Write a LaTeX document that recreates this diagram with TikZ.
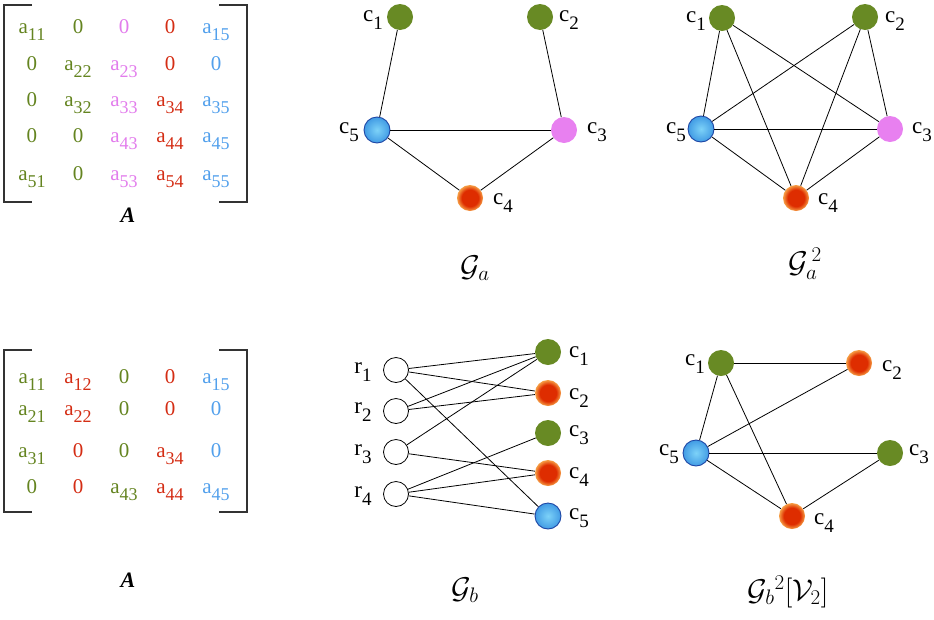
\documentclass[tikz,border=0pt]{standalone}
\usepackage{fix-cm}
\usepackage{fontspec}
\setmainfont{Liberation Serif}
\definecolor{ngreen}{RGB}{104,138,36}
\definecolor{npink}{RGB}{232,128,240}
\definecolor{nred}{RGB}{222,45,0}
\definecolor{norange}{RGB}{246,160,70}
\definecolor{nbluein}{RGB}{125,210,248}
\definecolor{nblueout}{RGB}{65,155,228}
\definecolor{nblueedge}{RGB}{30,70,165}
\definecolor{tgreen}{RGB}{100,132,32}
\definecolor{tpink}{RGB}{226,125,236}
\definecolor{tred}{RGB}{212,45,20}
\definecolor{tblue}{RGB}{82,160,236}
\pgfdeclareradialshading{redglow}{\pgfpoint{0bp}{0bp}}{color(0bp)=(nred);color(16bp)=(nred);color(25bp)=(norange);color(50bp)=(norange)}
\pgfdeclareradialshading{blueglow}{\pgfpoint{0bp}{0bp}}{color(0bp)=(nbluein);color(25bp)=(nblueout);color(50bp)=(nblueout)}
\newcommand{\ssub}[2]{#1\raisebox{-7pt}{\fontsize{18}{18}\selectfont #2}}
\newcommand{\csub}[2]{#1\raisebox{-8pt}{\fontsize{19}{19}\selectfont #2}}
\tikzset{
 vtx/.style={circle, minimum size=26pt, inner sep=0pt},
 gv/.style={vtx, fill=ngreen},
 pv/.style={vtx, fill=npink},
 rv/.style={vtx, shading=redglow},
 bv/.style={vtx, shading=blueglow, draw=nblueedge, line width=0.9pt},
 wv/.style={vtx, minimum size=25pt, draw=black, line width=0.8pt, fill=white},
 link/.style={draw, line width=0.8pt},
 lab/.style={inner sep=0pt, font=\fontsize{23}{23}\selectfont},
 ent/.style={anchor=base, inner sep=0pt, font=\fontsize{21}{21}\selectfont},
 brk/.style={line width=1.2pt, draw=black!80},
 ttl/.style={inner sep=0pt, font=\fontsize{30}{30}\selectfont},
 mlab/.style={inner sep=0pt, font=\bfseries\itshape\fontsize{22}{22}\selectfont},
}
\begin{document}
\begin{tikzpicture}[x=1pt,y=-1pt]
\useasboundingbox (0,0) rectangle (934,619);
% ---------- top matrix ----------
\draw[brk] (32,5) -- (4,5) -- (4,202) -- (32,202);
\draw[brk] (219,5) -- (247,5) -- (247,202) -- (219,202);
\node[ent,text=tgreen] (ta11) at (32,33) {\ssub{a}{11}};
\node[ent,text=tgreen] (ta12) at (78,33) {0};
\node[ent,text=tpink]  (ta13) at (124,33) {0};
\node[ent,text=tred]   (ta14) at (170,33) {0};
\node[ent,text=tblue]  (ta15) at (216,33) {\ssub{a}{15}};
\node[ent,text=tgreen] (ta21) at (32,70) {0};
\node[ent,text=tgreen] (ta22) at (78,70) {\ssub{a}{22}};
\node[ent,text=tpink]  (ta23) at (124,70) {\ssub{a}{23}};
\node[ent,text=tred]   (ta24) at (170,70) {0};
\node[ent,text=tblue]  (ta25) at (216,70) {0};
\node[ent,text=tgreen] (ta31) at (32,106) {0};
\node[ent,text=tgreen] (ta32) at (78,106) {\ssub{a}{32}};
\node[ent,text=tpink]  (ta33) at (124,106) {\ssub{a}{33}};
\node[ent,text=tred]   (ta34) at (170,106) {\ssub{a}{34}};
\node[ent,text=tblue]  (ta35) at (216,106) {\ssub{a}{35}};
\node[ent,text=tgreen] (ta41) at (32,142) {0};
\node[ent,text=tgreen] (ta42) at (78,142) {0};
\node[ent,text=tpink]  (ta43) at (124,142) {\ssub{a}{43}};
\node[ent,text=tred]   (ta44) at (170,142) {\ssub{a}{44}};
\node[ent,text=tblue]  (ta45) at (216,142) {\ssub{a}{45}};
\node[ent,text=tgreen] (ta51) at (32,180) {\ssub{a}{51}};
\node[ent,text=tgreen] (ta52) at (78,180) {0};
\node[ent,text=tpink]  (ta53) at (124,180) {\ssub{a}{53}};
\node[ent,text=tred]   (ta54) at (170,180) {\ssub{a}{54}};
\node[ent,text=tblue]  (ta55) at (216,180) {\ssub{a}{55}};
\node[mlab] (tA) at (128,215) {A};
% ---------- bottom matrix ----------
\draw[brk] (32,350) -- (4,350) -- (4,512) -- (32,512);
\draw[brk] (219,350) -- (247,350) -- (247,512) -- (219,512);
\node[ent,text=tgreen] (ba11) at (32,383) {\ssub{a}{11}};
\node[ent,text=tred]   (ba12) at (78,383) {\ssub{a}{12}};
\node[ent,text=tgreen] (ba13) at (124,383) {0};
\node[ent,text=tred]   (ba14) at (170,383) {0};
\node[ent,text=tblue]  (ba15) at (216,383) {\ssub{a}{15}};
\node[ent,text=tgreen] (ba21) at (32,415) {\ssub{a}{21}};
\node[ent,text=tred]   (ba22) at (78,415) {\ssub{a}{22}};
\node[ent,text=tgreen] (ba23) at (124,415) {0};
\node[ent,text=tred]   (ba24) at (170,415) {0};
\node[ent,text=tblue]  (ba25) at (216,415) {0};
\node[ent,text=tgreen] (ba31) at (32,457) {\ssub{a}{31}};
\node[ent,text=tred]   (ba32) at (78,457) {0};
\node[ent,text=tgreen] (ba33) at (124,457) {0};
\node[ent,text=tred]   (ba34) at (170,457) {\ssub{a}{34}};
\node[ent,text=tblue]  (ba35) at (216,457) {0};
\node[ent,text=tgreen] (ba41) at (32,493) {0};
\node[ent,text=tred]   (ba42) at (78,493) {0};
\node[ent,text=tgreen] (ba43) at (124,493) {\ssub{a}{43}};
\node[ent,text=tred]   (ba44) at (170,493) {\ssub{a}{44}};
\node[ent,text=tblue]  (ba45) at (216,493) {\ssub{a}{45}};
\node[mlab] (bA) at (128,580) {A};
% ---------- G_a ----------
\node[gv] (a1) at (400,17) {};
\node[gv] (a2) at (540,17) {};
\node[pv] (a3) at (564,130) {};
\node[rv] (a4) at (470,198) {};
\node[bv] (a5) at (377,130) {};
\node[lab] (la1) at (373,20) {\csub{c}{1}};
\node[lab] (la2) at (569,20) {\csub{c}{2}};
\node[lab] (la3) at (597,132) {\csub{c}{3}};
\node[lab] (la4) at (503,203) {\csub{c}{4}};
\node[lab] (la5) at (349,132) {\csub{c}{5}};
\draw[link] (a1) -- (a5);
\draw[link] (a2) -- (a3);
\draw[link] (a5) -- (a3);
\draw[link] (a5) -- (a4);
\draw[link] (a3) -- (a4);
\node[ttl] (tGa) at (475,268) {$\mathcal{G}_a$};
% ---------- G_a^2 ----------
\node[gv] (q1) at (722,18) {};
\node[gv] (q2) at (865,17) {};
\node[pv] (q3) at (890,129) {};
\node[rv] (q4) at (796,198) {};
\node[bv] (q5) at (701,129) {};
\node[lab] (lq1) at (696,21) {\csub{c}{1}};
\node[lab] (lq2) at (895,21) {\csub{c}{2}};
\node[lab] (lq3) at (922,132) {\csub{c}{3}};
\node[lab] (lq4) at (828,203) {\csub{c}{4}};
\node[lab] (lq5) at (676,132) {\csub{c}{5}};
\draw[link] (q1) -- (q5);
\draw[link] (q1) -- (q4);
\draw[link] (q1) -- (q3);
\draw[link] (q2) -- (q5);
\draw[link] (q2) -- (q4);
\draw[link] (q2) -- (q3);
\draw[link] (q5) -- (q3);
\draw[link] (q5) -- (q4);
\draw[link] (q3) -- (q4);
\node[ttl] (tGa2) at (805,264) {$\mathcal{G}_a^{\,2}$};
% ---------- G_b ----------
\node[wv] (r1) at (396,370) {};
\node[wv] (r2) at (396,411) {};
\node[wv] (r3) at (396,452) {};
\node[wv] (r4) at (396,494) {};
\node[gv] (b1) at (548,352) {};
\node[rv] (b2) at (548,393) {};
\node[gv] (b3) at (548,433) {};
\node[rv] (b4) at (548,473) {};
\node[bv] (b5) at (548,516) {};
\node[lab] (lr1) at (363,372) {\csub{r}{1}};
\node[lab] (lr2) at (363,412) {\csub{r}{2}};
\node[lab] (lr3) at (363,454) {\csub{r}{3}};
\node[lab] (lr4) at (363,496) {\csub{r}{4}};
\node[lab] (lb1) at (579,356) {\csub{c}{1}};
\node[lab] (lb2) at (579,398) {\csub{c}{2}};
\node[lab] (lb3) at (579,435) {\csub{c}{3}};
\node[lab] (lb4) at (579,477) {\csub{c}{4}};
\node[lab] (lb5) at (579,518) {\csub{c}{5}};
\draw[link] (r1) -- (b1);
\draw[link] (r1) -- (b2);
\draw[link] (r1) -- (b5);
\draw[link] (r2) -- (b1);
\draw[link] (r2) -- (b2);
\draw[link] (r3) -- (b1);
\draw[link] (r3) -- (b4);
\draw[link] (r4) -- (b3);
\draw[link] (r4) -- (b4);
\draw[link] (r4) -- (b5);
\node[ttl] (tGb) at (465,590) {$\mathcal{G}_b$};
% ---------- G_b^2[V_2] ----------
\node[gv] (s1) at (721,363) {};
\node[rv] (s2) at (859,363) {};
\node[gv] (s3) at (890,453) {};
\node[rv] (s4) at (792,516) {};
\node[bv] (s5) at (696,453) {};
\node[lab] (ls1) at (695,364) {\csub{c}{1}};
\node[lab] (ls2) at (892,370) {\csub{c}{2}};
\node[lab] (ls3) at (919,454) {\csub{c}{3}};
\node[lab] (ls4) at (824,523) {\csub{c}{4}};
\node[lab] (ls5) at (669,454) {\csub{c}{5}};
\draw[link] (s1) -- (s2);
\draw[link] (s1) -- (s5);
\draw[link] (s1) -- (s4);
\draw[link] (s5) -- (s2);
\draw[link] (s5) -- (s3);
\draw[link] (s5) -- (s4);
\draw[link] (s4) -- (s3);
\node[ttl] (tGb2) at (788,592) {$\mathcal{G}_b{}^2[\mathcal{V}_2]$};
\end{tikzpicture}
\end{document}
